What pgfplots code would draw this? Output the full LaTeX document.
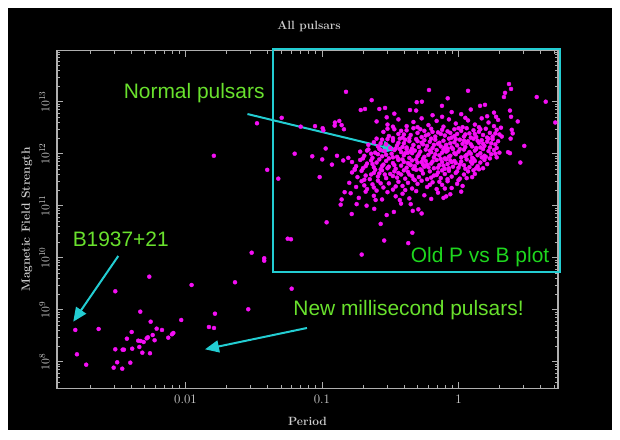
\documentclass[border=0pt]{standalone}
\usepackage{pgfplots}
\pgfplotsset{compat=1.18}
\usepackage{fontspec}
\newfontfamily\annfont{Liberation Sans}
\usetikzlibrary{arrows.meta}

\definecolor{pmag}{RGB}{245,15,245}
\definecolor{cyanline}{RGB}{35,205,210}
\definecolor{lime}{RGB}{105,225,45}
\definecolor{oldgreen}{RGB}{30,215,30}
\definecolor{axisgray}{RGB}{175,175,175}
\definecolor{textgray}{RGB}{205,205,205}

\begin{document}
\begin{tikzpicture}
\path[use as bounding box, fill=white] (0,0) rectangle (620bp,440bp);
\fill[black] (8bp,10bp) rectangle (612bp,432bp);
\node[text=textgray, font=\bfseries\fontsize{12}{14}\selectfont] at (309bp,414bp) {All pulsars};
% data are log10(P / s) and log10(B / G)
\begin{axis}[
  at={(57bp,51.7bp)}, anchor=south west,
  scale only axis, width=501bp, height=337.6bp,
  xmin=-2.941, xmax=0.729, ymin=7.488, ymax=13.981,
  clip=false,
  axis line style={draw=axisgray, line width=1.1bp},
  xtick={-2,-1,0}, xticklabels={0.01,0.1,1},
  ytick={8,9,10,11,12,13},
  yticklabels={$10^{8}$,$10^{9}$,$10^{10}$,$10^{11}$,$10^{12}$,$10^{13}$},
  minor xtick={-2.699,-2.523,-2.398,-2.301,-2.222,-2.155,-2.097,-2.046,
    -1.699,-1.523,-1.398,-1.301,-1.222,-1.155,-1.097,-1.046,
    -0.699,-0.523,-0.398,-0.301,-0.222,-0.155,-0.097,-0.046,
    0.301,0.477,0.602,0.699},
  minor ytick={7.602,7.699,7.778,7.845,7.903,7.954,
    8.301,8.477,8.602,8.699,8.778,8.845,8.903,8.954,
    9.301,9.477,9.602,9.699,9.778,9.845,9.903,9.954,
    10.301,10.477,10.602,10.699,10.778,10.845,10.903,10.954,
    11.301,11.477,11.602,11.699,11.778,11.845,11.903,11.954,
    12.301,12.477,12.602,12.699,12.778,12.845,12.903,12.954,
    13.301,13.477,13.602,13.699,13.778,13.845,13.903,13.954},
  tick align=inside, major tick length=6bp, minor tick length=3bp,
  tick style={draw=axisgray, line width=0.7bp},
  tick label style={font=\fontsize{13}{14}\selectfont, text=textgray},
  xticklabel style={yshift=-3bp},
  yticklabel style={xshift=-4bp, rotate=90, anchor=south},
  xlabel={Period},
  xlabel style={at={(axis description cs:0.5,-0.097)}, anchor=center,
    font=\bfseries\fontsize{12}{14}\selectfont, text=textgray},
  ylabel={Magnetic Field Strength},
  ylabel style={at={(axis description cs:-0.060,0.5)}, anchor=center,
    font=\bfseries\fontsize{12}{14}\selectfont, text=textgray},
]
% millisecond pulsars
\addplot[only marks, mark=*, mark size=2.0bp, color=pmag,
  mark options={draw=pmag, fill=pmag}] coordinates {
(-1.515,10.096) (-1.423,9.989) (-1.423,9.942) (-1.637,9.527) (-1.955,9.475)
(-2.265,9.635) (-2.514,9.354) (-1.222,9.404) (-1.540,9.008) (-1.784,8.923)
(-2.331,8.962) (-2.031,8.802) (-1.828,8.667) (-1.791,8.648) (-2.807,8.610)
(-2.636,8.629) (-2.255,8.769) (-2.394,8.571) (-2.211,8.635) (-2.172,8.610)
(-2.089,8.552) (-2.099,8.527) (-2.240,8.513) (-2.275,8.469) (-2.284,8.450)
(-2.126,8.462) (-2.429,8.442) (-2.346,8.404) (-2.328,8.398) (-2.306,8.379)
(-2.226,8.412) (-2.338,8.283) (-2.390,8.250) (-2.514,8.238) (-2.460,8.231)
(-2.451,8.231) (-2.316,8.173) (-2.260,8.162) (-2.795,8.142) (-2.500,7.988)
(-2.404,7.981) (-2.727,7.942) (-2.526,7.885) (-2.463,7.865) (-1.251,10.365)
(-1.227,10.354)
};
% normal pulsars
\addplot[only marks, mark=*, mark size=2.0bp, color=pmag,
  mark options={draw=pmag, fill=pmag}] coordinates {
(-0.824,13.19) (-0.636,13.03) (-0.216,13.225) (0.070,13.21) (0.370,13.34)
(0.385,13.245) (0.341,13.17) (0.333,13.09) (0.573,13.09) (0.639,13.00)
(-0.079,13.065) (-0.268,13.00) (-0.538,12.88) (-0.355,12.84) (-0.685,12.86)
(0.194,12.94) (-0.121,12.92) (-0.716,12.84) (-0.306,12.99) (0.158,12.92)
(-0.526,12.70)
(0.482,12.15) (0.453,11.83) (0.377,12.83) (0.385,12.71) (0.434,12.62)
(0.390,12.46) (0.397,12.39) (0.382,12.29) (0.317,12.33) (0.311,12.50)
(0.275,12.71) (0.363,12.03) (0.377,12.01) (0.709,12.60)
(-0.905,12.60) (-0.873,12.63) (-0.907,12.54) (-0.856,12.55) (-0.839,12.47)
(-1.156,12.52) (-1.051,12.53) (-0.995,12.49) (-0.990,12.45) (-1.295,12.69)
(-1.476,12.585) (-0.973,12.10) (-1.200,12.00) (-1.071,11.95) (-0.998,11.89)
(-0.890,11.96) (-0.927,11.79) (-0.844,11.87) (-0.807,11.92) (-1.401,11.69)
(-1.320,11.52) (-1.017,11.55) (-0.834,11.26) (-0.856,11.12) (-0.863,11.02)
(-0.966,10.68) (-1.792,11.96)
(-0.782,10.84) (-0.746,11.03) (-0.673,11.00) (-0.617,10.94) (-0.607,11.11)
(-0.570,10.65) (-0.544,10.33) (-0.526,10.82) (-0.473,10.88) (-0.421,11.04)
(-0.350,11.03) (-0.338,10.48) (-0.368,10.28) (-0.335,10.90) (-0.294,10.93)
(-0.270,10.85) (-0.709,10.06) (-0.06,11.22) (0.02,11.27) (-0.11,11.15)
(-0.58,12.86) (-0.47,12.77) (-0.31,12.83) (-0.19,12.74) (-0.05,12.80)
(0.09,12.85) (0.21,12.72) (-0.12,12.71) (0.02,12.76) (0.26,12.79)
(-0.60,12.62) (-0.52,12.56) (-0.44,12.66) (-0.38,12.53) (-0.33,12.61)
(-0.27,12.68) (-0.22,12.55) (-0.16,12.63) (-0.11,12.52) (-0.07,12.66)
(-0.02,12.58) (0.03,12.51) (0.07,12.64) (0.12,12.56) (0.17,12.68)
(0.22,12.60) (0.26,12.53) (0.29,12.65) (0.15,12.51) (-0.30,12.51)
(-0.48,12.52) (0.05,12.69)
(-0.55,12.42) (-0.51,12.34) (-0.47,12.47) (-0.44,12.38) (-0.41,12.31)
(-0.38,12.45) (-0.35,12.36) (-0.33,12.49) (-0.30,12.40) (-0.27,12.32)
(-0.25,12.44) (-0.22,12.37) (-0.20,12.48) (-0.17,12.33) (-0.15,12.41)
(-0.12,12.46) (-0.10,12.35) (-0.08,12.43) (-0.05,12.31) (-0.03,12.47)
(-0.01,12.38) (0.02,12.44) (0.04,12.33) (0.06,12.49) (0.08,12.39)
(0.11,12.45) (0.13,12.32) (0.15,12.42) (0.18,12.36) (0.20,12.48)
(0.23,12.40) (0.25,12.33) (0.28,12.46) (0.30,12.37) (-0.48,12.30)
(-0.36,12.30) (-0.19,12.42) (-0.06,12.40) (0.09,12.31) (0.21,12.31)
(-0.28,12.47) (-0.13,12.38) (0.00,12.49) (0.16,12.47) (0.27,12.39)
(-0.42,12.44) (0.05,12.37) (-0.24,12.35) (0.12,12.38) (-0.52,12.48)
(-0.40,12.37) (-0.03,12.34)
(-0.62,12.22) (-0.59,12.14) (-0.56,12.27) (-0.53,12.18) (-0.50,12.11)
(-0.48,12.25) (-0.45,12.16) (-0.43,12.29) (-0.40,12.20) (-0.38,12.12)
(-0.36,12.24) (-0.33,12.17) (-0.31,12.28) (-0.29,12.13) (-0.27,12.21)
(-0.25,12.26) (-0.23,12.15) (-0.21,12.23) (-0.19,12.11) (-0.17,12.27)
(-0.15,12.19) (-0.13,12.14) (-0.11,12.25) (-0.09,12.17) (-0.07,12.29)
(-0.05,12.12) (-0.03,12.22) (-0.01,12.16) (0.01,12.27) (0.03,12.19)
(0.05,12.13) (0.07,12.24) (0.09,12.18) (0.11,12.29) (0.13,12.11)
(0.15,12.21) (0.17,12.26) (0.19,12.15) (0.21,12.23) (0.23,12.12)
(0.25,12.28) (0.27,12.18) (0.29,12.24) (-0.60,12.29) (-0.52,12.28)
(-0.46,12.10) (-0.39,12.27) (-0.34,12.10) (-0.26,12.18) (-0.20,12.29)
(-0.14,12.21) (-0.08,12.10) (-0.02,12.28) (0.04,12.25) (0.10,12.14)
(0.16,12.12) (0.22,12.29) (0.28,12.11) (-0.57,12.20) (-0.44,12.21)
(-0.30,12.24) (-0.18,12.17) (-0.06,12.20) (0.06,12.21) (0.14,12.25)
(0.24,12.20) (-0.10,12.12) (-0.66,12.17) (-0.41,12.13) (0.18,12.19)
(-0.72,12.04) (-0.69,11.96) (-0.66,12.08) (-0.63,11.92) (-0.61,12.02)
(-0.58,12.09) (-0.56,11.95) (-0.54,12.05) (-0.51,11.91) (-0.49,12.00)
(-0.47,12.07) (-0.45,11.94) (-0.42,12.03) (-0.40,11.97) (-0.38,12.09)
(-0.36,11.92) (-0.34,12.01) (-0.32,12.06) (-0.30,11.95) (-0.28,12.04)
(-0.26,11.90) (-0.24,12.08) (-0.22,11.98) (-0.20,12.03) (-0.18,11.93)
(-0.16,12.07) (-0.14,11.97) (-0.12,12.02) (-0.10,11.91) (-0.08,12.06)
(-0.06,11.96) (-0.04,12.09) (-0.02,11.99) (0.00,12.04) (0.02,11.93)
(0.04,12.08) (0.06,11.98) (0.08,12.03) (0.10,11.92) (0.12,12.06)
(0.14,11.97) (0.16,12.01) (0.18,12.09) (0.20,11.94) (0.22,12.05)
(0.24,11.99) (0.26,12.07) (0.28,11.93) (0.30,12.02) (-0.37,12.02)
(0.19,11.96) (-0.09,12.04) (-0.70,11.91) (-0.64,12.00) (-0.59,11.99)
(-0.53,11.98) (-0.48,11.93) (-0.43,12.09) (-0.39,12.01) (-0.35,12.05)
(-0.29,11.99) (-0.25,11.94) (-0.21,12.06) (-0.17,11.99) (-0.11,12.08)
(-0.07,11.94) (-0.03,12.01) (0.01,12.09) (0.05,11.95) (0.09,12.00)
(0.13,12.09) (0.17,11.93) (0.23,11.91) (0.27,12.00) (-0.67,12.06)
(-0.44,11.90) (-0.13,11.90) (0.11,11.90) (-0.57,12.07)
(-0.78,11.84) (-0.75,11.76) (-0.72,11.88) (-0.70,11.72) (-0.67,11.81)
(-0.64,11.87) (-0.62,11.74) (-0.60,11.83) (-0.57,11.70) (-0.55,11.79)
(-0.53,11.86) (-0.51,11.75) (-0.48,11.82) (-0.46,11.71) (-0.44,11.88)
(-0.42,11.77) (-0.40,11.84) (-0.38,11.73) (-0.36,11.80) (-0.34,11.87)
(-0.32,11.76) (-0.30,11.83) (-0.28,11.70) (-0.26,11.79) (-0.24,11.86)
(-0.22,11.74) (-0.20,11.81) (-0.18,11.72) (-0.16,11.88) (-0.14,11.78)
(-0.12,11.84) (-0.10,11.71) (-0.08,11.80) (-0.06,11.87) (-0.04,11.75)
(-0.02,11.82) (0.00,11.73) (0.02,11.85) (0.04,11.78) (0.06,11.89)
(0.08,11.74) (0.10,11.81) (0.12,11.86) (0.14,11.76) (0.16,11.83)
(0.18,11.72) (0.21,11.80) (-0.35,11.78) (0.15,11.70) (-0.05,11.84)
(-0.76,11.71) (-0.68,11.76) (-0.63,11.80) (-0.58,11.89) (-0.52,11.72)
(-0.47,11.78) (-0.41,11.89) (-0.37,11.82) (-0.33,11.71) (-0.27,11.84)
(-0.23,11.79) (-0.19,11.85) (-0.15,11.73) (-0.11,11.77) (-0.07,11.72)
(-0.03,11.86) (0.01,11.79) (0.05,11.71) (0.09,11.85) (0.13,11.72)
(0.19,11.88) (-0.25,11.75) (-0.56,11.76) (-0.31,11.89) (-0.09,11.89)
(-0.78,11.64) (-0.74,11.55) (-0.71,11.67) (-0.68,11.58) (-0.65,11.51)
(-0.62,11.63) (-0.59,11.56) (-0.56,11.68) (-0.53,11.53) (-0.50,11.61)
(-0.47,11.66) (-0.45,11.54) (-0.42,11.60) (-0.39,11.52) (-0.37,11.65)
(-0.34,11.57) (-0.31,11.69) (-0.29,11.55) (-0.26,11.62) (-0.23,11.51)
(-0.21,11.66) (-0.18,11.58) (-0.15,11.64) (-0.13,11.53) (-0.10,11.61)
(-0.07,11.67) (-0.05,11.56) (-0.02,11.63) (0.01,11.52) (0.04,11.60)
(0.07,11.66) (0.10,11.55) (-0.16,11.59) (0.12,11.61) (-0.36,11.60)
(-0.64,11.60) (-0.76,11.69) (-0.69,11.50) (-0.61,11.69) (-0.54,11.60)
(-0.48,11.57) (-0.40,11.68) (-0.33,11.51) (-0.27,11.68) (-0.20,11.54)
(-0.12,11.68) (-0.08,11.51) (-0.01,11.66) (0.06,11.53) (0.11,11.68)
(-0.58,11.62) (-0.44,11.63)
(-0.80,11.44) (-0.75,11.36) (-0.71,11.47) (-0.67,11.32) (-0.63,11.41)
(-0.59,11.48) (-0.55,11.35) (-0.51,11.43) (-0.48,11.31) (-0.44,11.46)
(-0.41,11.38) (-0.37,11.44) (-0.34,11.33) (-0.30,11.42) (-0.27,11.48)
(-0.23,11.36) (-0.19,11.45) (-0.16,11.32) (-0.12,11.40) (-0.08,11.47)
(-0.05,11.34) (-0.01,11.42) (0.03,11.38) (-0.62,11.35) (-0.14,11.46)
(-0.69,11.39) (-0.57,11.43) (-0.46,11.37) (-0.32,11.49) (-0.21,11.40)
(-0.10,11.33) (0.00,11.49) (-0.39,11.30)
(-0.79,11.24) (-0.73,11.15) (-0.68,11.27) (-0.62,11.19) (-0.56,11.12)
(-0.52,11.26) (-0.46,11.18) (-0.41,11.23) (-0.36,11.14) (-0.31,11.28)
(-0.25,11.20) (-0.20,11.13) (-0.15,11.25) (-0.09,11.18) (-0.60,11.29)
(-0.43,11.11)
};
% region of the earlier P-B diagram
\draw[cyanline, line width=2bp] (axis cs:-1.357,9.73) rectangle (axis cs:0.744,14.01);
% annotation arrows
\draw[cyanline, line width=2bp, -{Triangle[length=14bp,width=12bp]}]
  (axis cs:-1.546,12.763) -- (axis cs:-0.453,12.07);
\draw[cyanline, line width=2bp, -{Triangle[length=14bp,width=12bp]}]
  (axis cs:-2.492,10.033) -- (axis cs:-2.822,8.769);
\draw[cyanline, line width=2bp, -{Triangle[length=14bp,width=12bp]}]
  (axis cs:-1.110,8.648) -- (axis cs:-1.857,8.238);
% annotation texts
\node[text=lime, font=\annfont\fontsize{21}{24}\selectfont] at (axis cs:-1.936,13.16) {Normal pulsars};
\node[text=lime, font=\annfont\fontsize{21}{24}\selectfont] at (axis cs:-2.474,10.354) {B1937+21};
\node[text=oldgreen, font=\annfont\fontsize{21}{24}\selectfont] at (axis cs:0.158,10.008) {Old P vs B plot};
\node[text=lime, font=\annfont\fontsize{21}{24}\selectfont] at (axis cs:-0.366,8.994) {New millisecond pulsars!};
\end{axis}
\end{tikzpicture}
\end{document}
